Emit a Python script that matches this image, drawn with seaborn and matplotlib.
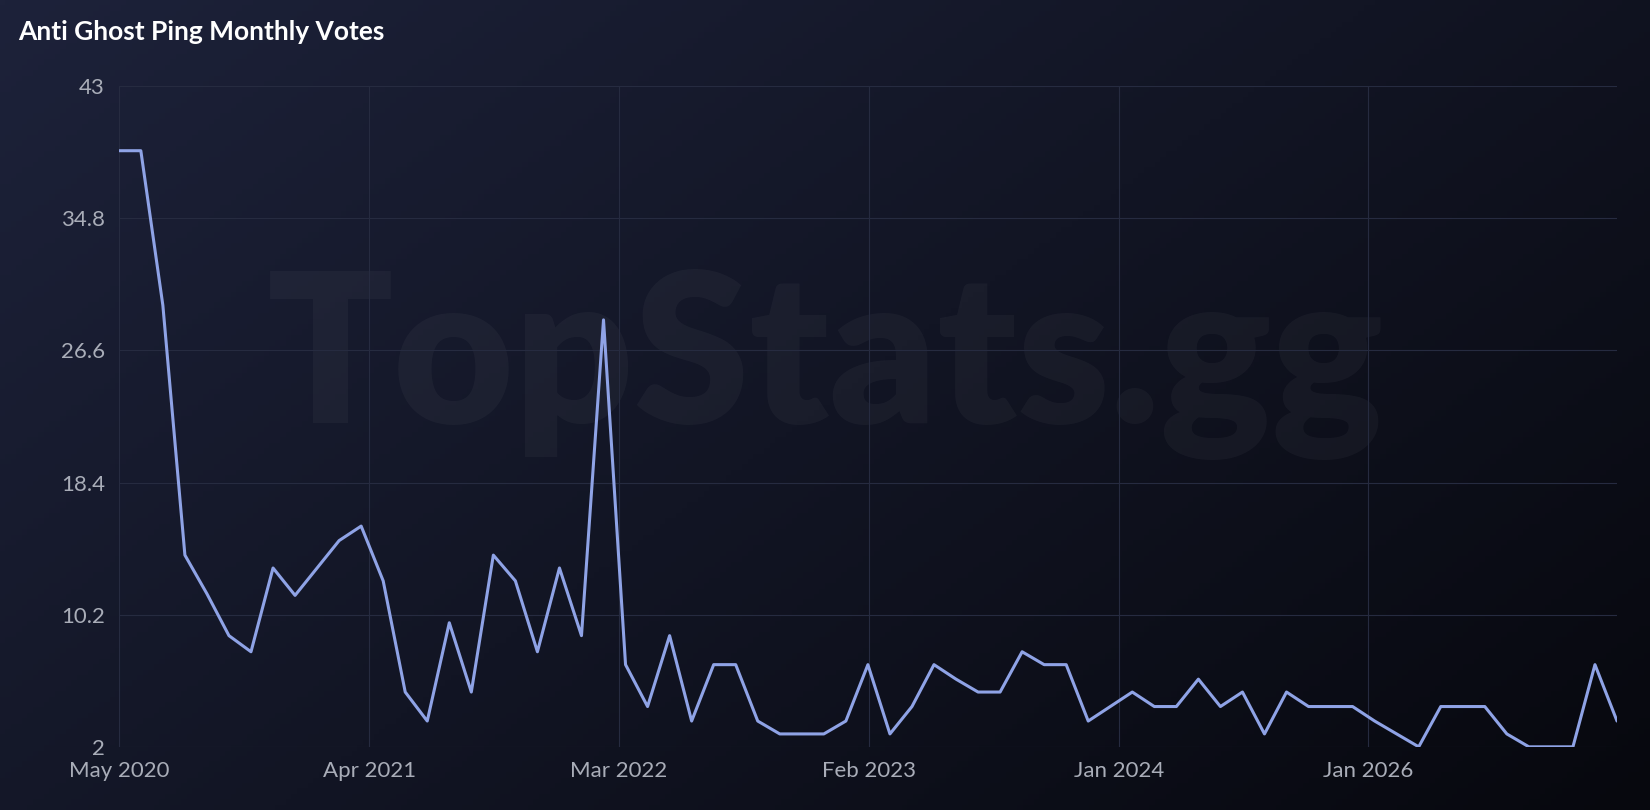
import numpy as np
import matplotlib
matplotlib.use("Agg")
import matplotlib.pyplot as plt
import seaborn as sns
import pandas as pd

votes = [39, 39, 29.4, 13.9, 11.5, 8.9, 7.9, 13.1, 11.4, 13.1, 14.8, 15.7, 12.3, 5.4, 3.6,
         9.7, 5.4, 13.9, 12.3, 7.9, 13.1, 8.9, 28.5, 7.1, 4.5, 8.9, 3.6, 7.1, 7.1, 3.6,
         2.8, 2.8, 2.8, 3.6, 7.1, 2.8, 4.5, 7.1, 6.2, 5.4, 5.4, 7.9, 7.1, 7.1, 3.6, 4.5,
         5.4, 4.5, 4.5, 6.2, 4.5, 5.4, 2.8, 5.4, 4.5, 4.5, 4.5, 3.6, 2.8, 2.0, 4.5, 4.5,
         4.5, 2.8, 2.0, 2.0, 2.0, 7.1, 3.6]
tick_labels = ["May 2020", "Apr 2021", "Mar 2022", "Feb 2023", "Jan 2024", "Jan 2026"]
tick_pos = [0, 11.37, 22.7, 34.05, 45.4, 56.7]
y_ticks = [2, 10.2, 18.4, 26.6, 34.8, 43]

df = pd.DataFrame({"i": np.arange(len(votes)), "votes": votes})

sns.set_theme(style="dark")
plt.rcParams['font.family'] = ['Lato', 'DejaVu Sans']
fig = plt.figure(figsize=(16.5, 8.1), dpi=100)
fig.patch.set_facecolor("white")

bg = fig.add_axes([0, 0, 1, 1], zorder=-10)
gx, gy = np.meshgrid(np.linspace(0, 1, 300), np.linspace(0, 1, 150))
t = np.clip(0.6 * gx + 0.4 * gy, 0, 1)
c0 = np.array([0x1d, 0x22, 0x3a]) / 255
c1 = np.array([0x07, 0x08, 0x0e]) / 255
img = c0[None, None, :] * (1 - t[..., None]) + c1[None, None, :] * t[..., None]
bg.imshow(img, extent=[0, 1, 0, 1], aspect="auto", origin="upper")
bg.set_xlim(0, 1); bg.set_ylim(0, 1); bg.axis("off")
bg.text(0.5, 0.55, "TopStats.gg", color="white", alpha=0.035, fontsize=150,
        fontweight="heavy", ha="center", va="center")

ax = fig.add_axes([0.072, 0.078, 0.908, 0.8155])
ax.set_facecolor((0, 0, 0, 0))
sns.lineplot(data=df, x="i", y="votes", ax=ax, color="#8fa3e6", linewidth=2.2)
ax.set_xlim(0, len(votes) - 1)
ax.set_ylim(2, 43)
ax.set_yticks(y_ticks)
ax.set_yticklabels(["2", "10.2", "18.4", "26.6", "34.8", "43"])
ax.set_xticks(tick_pos)
ax.set_xticklabels(tick_labels)
ax.tick_params(colors="#a9adb8", labelsize=16, length=0, pad=10)
ax.grid(True, color="#262b40", linewidth=0.8)
ax.set_xlabel(""); ax.set_ylabel("")
for s in ax.spines.values():
    s.set_visible(False)

fig.text(0.011, 0.96, "Anti Ghost Ping Monthly Votes", color="white", fontsize=19,
         fontweight="bold", ha="left", va="center")
fig.savefig("out.png", dpi=100, facecolor=fig.get_facecolor())
